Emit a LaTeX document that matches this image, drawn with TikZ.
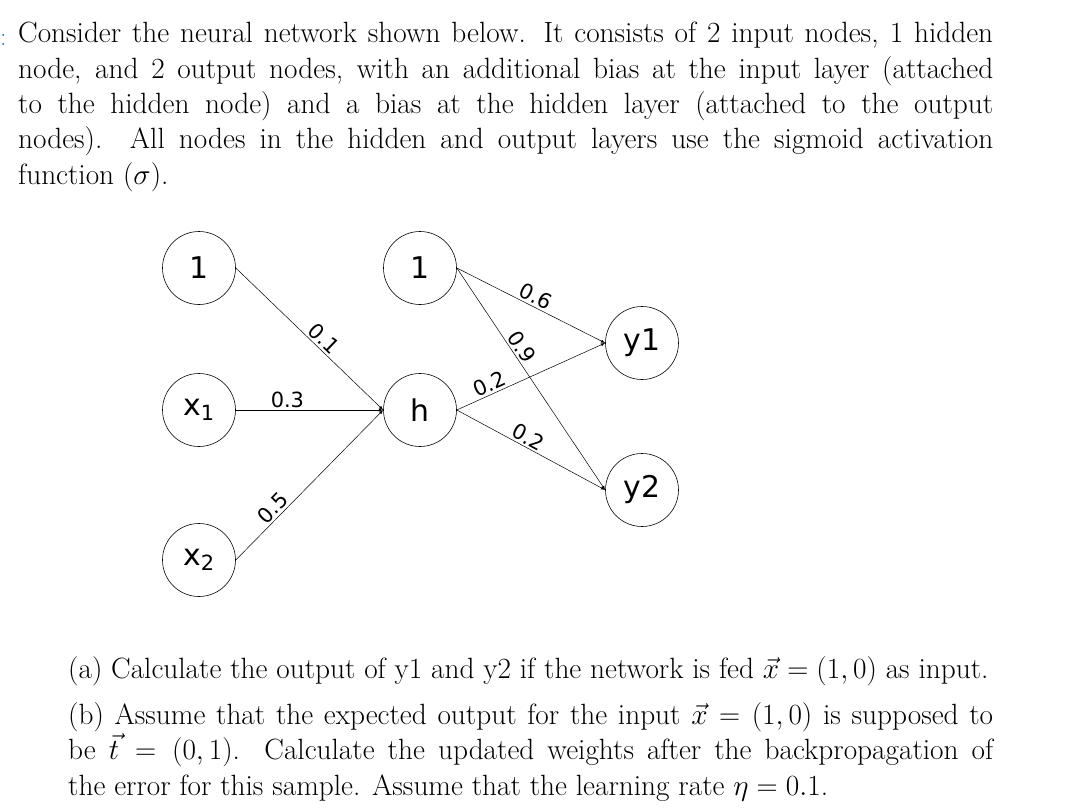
\documentclass[tikz,border=0pt]{standalone}
\usepackage{fix-cm}
\usepackage{amsmath}
\usepackage{fontspec}
\newfontfamily\nnfont{DejaVu Sans}
\DeclareMathSizes{29.4}{29.4}{20}{15}
\begin{document}
\begin{tikzpicture}[x=1bp,y=-1bp,
  neuron/.style={circle,draw,line width=0.6bp,minimum size=73bp,inner sep=0pt,font=\nnfont\fontsize{30}{30}\selectfont},
  conn/.style={-latex,line width=0.5bp},
  wl/.style={sloped,above,inner sep=2bp,font=\nnfont\fontsize{21}{21}\selectfont}]
\useasboundingbox (0,0) rectangle (1074,809);
\node[anchor=west,text=cyan!70!blue,font=\fontsize{26}{26}\selectfont,inner sep=0pt] (colon) at (0,40) {:};
\node[anchor=north west,inner sep=0pt] (intro) at (18,22) {\begin{minipage}{975bp}\fontsize{29.4}{35.5}\selectfont
Consider the neural network shown below. It consists of 2 input nodes, 1 hidden\linebreak node, and 2 output nodes, with an additional bias at the input layer (attached\linebreak to the hidden node) and a bias at the hidden layer (attached to the output\linebreak nodes). All nodes in the hidden and output layers use the sigmoid activation\linebreak function ($\sigma$).
\end{minipage}};
\node[neuron] (b1) at (199,268) {1};
\node[neuron] (x1) at (199,410) {x\textsubscript{1}};
\node[neuron] (x2) at (199,560) {x\textsubscript{2}};
\node[neuron] (b2) at (420,268) {1};
\node[neuron] (h) at (420,410) {h};
\node[neuron] (y1) at (642,343) {y1};
\node[neuron] (y2) at (642,490) {y2};
\draw[conn] (b1.east) -- node[wl,pos=0.55] {0.1} (h.west);
\draw[conn] (x1.east) -- node[wl,pos=0.35] {0.3} (h.west);
\draw[conn] (x2.east) -- node[wl,pos=0.3] {0.5} (h.west);
\draw[conn] (b2.east) -- node[wl,pos=0.5] {0.6} (y1.west);
\draw[conn] (b2.east) -- node[wl,pos=0.38] {0.9} (y2.west);
\draw[conn] (h.east) -- node[wl,pos=0.25] {0.2} (y1.west);
\draw[conn] (h.east) -- node[wl,pos=0.45] {0.2} (y2.west);
\node[anchor=north west,inner sep=0pt] (qs) at (68,656) {\begin{minipage}{925bp}\fontsize{29.4}{35.5}\selectfont
(a) Calculate the output of y1 and y2 if the network is fed $\vec{x}=(1,0)$ as input.\par\vspace{11bp}
(b) Assume that the expected output for the input $\vec{x}=(1,0)$ is supposed to\linebreak be $\vec{t}=(0,1)$. Calculate the updated weights after the backpropagation of\linebreak the error for this sample. Assume that the learning rate $\eta=0.1$.
\end{minipage}};
\end{tikzpicture}
\end{document}
